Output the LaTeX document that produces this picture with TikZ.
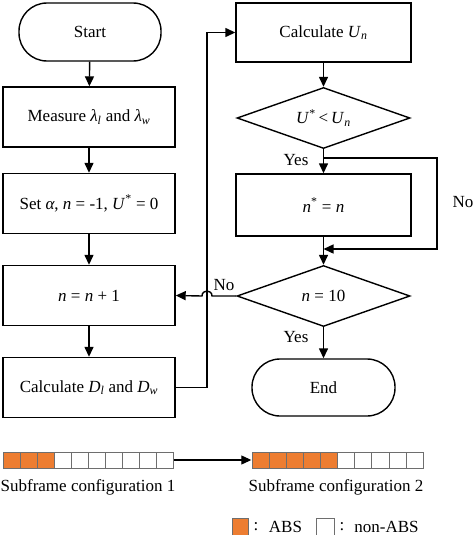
\documentclass[tikz,border=0pt]{standalone}
\usepackage{fontspec}
\setmainfont{Liberation Serif}
\usetikzlibrary{shapes.geometric,arrows.meta}
\definecolor{absorange}{RGB}{237,125,49}
\definecolor{cellline}{RGB}{110,110,110}
\newcommand{\mi}[1]{\textit{#1}}
\newcommand{\msub}[1]{\textsubscript{\textit{#1}}}
\newcommand{\msup}[1]{\textsuperscript{#1}}
\begin{document}
\begin{tikzpicture}[x=1pt,y=-1pt,
  font=\fontsize{17}{20}\selectfont,
  line width=1.4pt,
  box/.style={draw, rectangle, minimum width=172pt, minimum height=60pt, inner sep=0pt},
  term/.style={draw, rectangle, rounded corners=28pt, minimum width=142pt, minimum height=58pt, inner sep=0pt},
  dec/.style={draw, diamond, aspect=2.84, minimum width=173pt, minimum height=61pt, inner sep=0pt},
  arr/.style={-{Triangle[length=10pt,width=9pt]}},
  lbl/.style={inner sep=0pt},
  cell/.style={draw=cellline, line width=0.6pt},
  rowbox/.style={minimum width=170pt, minimum height=16pt, inner sep=0pt}]
\useasboundingbox (0,0) rectangle (474,535);

% left column
\node[term] (start) at (90,32) {Start};
\node[box] (meas) at (89,117) {Measure \mi{λ}\msub{l} and \mi{λ}\msub{w}};
\node[box] (set) at (89,203.5) {Set \mi{α}, \mi{n} = -1, \mi{U}\msup{*} = 0};
\node[box] (nn) at (89,295.5) {\mi{n} = \mi{n} + 1};
\node[box] (calcd) at (89,387.5) {Calculate \mi{D}\msub{l} and \mi{D}\msub{w}};

% right column
\node[box, minimum width=175pt, minimum height=59pt] (calcu) at (323.5,32.5) {Calculate \mi{U}\msub{n}};
\node[dec] (d1) at (323.5,118) {\mi{U}\msup{*}\,<\,\mi{U}\msub{n}};
\node[box, minimum width=175pt, minimum height=62pt] (nstar) at (323.5,205) {\mi{n}\msup{*} = \mi{n}};
\node[dec] (d2) at (323.5,296) {\mi{n} = 10};
\node[term, minimum width=143pt, minimum height=57pt] (end) at (323.5,387.5) {End};

% connectors
\draw[arr] (start) -- (meas);
\draw[arr] (meas) -- (set);
\draw[arr] (set) -- (nn);
\draw[arr] (nn) -- (calcd);
\coordinate (lp1) at (207,387.5);
\coordinate (lp2) at (207,32.5);
\draw[arr] (calcd.east) -- (lp1) -- (lp2) -- (calcu.west);
\draw[arr] (calcu) -- (d1);
\draw[arr] (d1) -- (nstar);
\draw[arr] (nstar) -- (d2);
\draw[arr] (d2) -- (end);
\coordinate (br) at (323.5,158);
\coordinate (r1) at (437,158);
\coordinate (r2) at (437,249);
\coordinate (r3) at (323.5,249);
\draw[arr] (br) -- (r1) -- (r2) -- (r3);
\coordinate (h1) at (212,296);
\coordinate (h2) at (202,296);
\draw[arr] (d2.west) -- (h1) .. controls (212,289.3) and (202,289.3) .. (h2) -- (nn.east);

% labels
\node[lbl] at (296,160) {Yes};
\node[lbl] at (296,337) {Yes};
\node[lbl] at (224,285) {No};
\node[lbl] at (463,202) {No};

% subframe rows
\node[rowbox] (row1) at (88,460) {};
\node[rowbox, minimum width=171pt] (row2) at (337.5,460) {};
\foreach \i in {0,...,9} {
  \ifnum\i<3
    \filldraw[cell, fill=absorange] (3+\i*17,452) rectangle ++(17,16);
  \else
    \draw[cell] (3+\i*17,452) rectangle ++(17,16);
  \fi
}
\foreach \i in {0,...,9} {
  \ifnum\i<5
    \filldraw[cell, fill=absorange] (252+\i*17.1,452) rectangle ++(17.1,16);
  \else
    \draw[cell] (252+\i*17.1,452) rectangle ++(17.1,16);
  \fi
}
\draw[arr, line width=1.1pt] (row1.east) -- (row2.west);
\node[lbl] (cfg1) at (88,487) {Subframe configuration 1};
\node[lbl] (cfg2) at (336,487) {Subframe configuration 2};

% legend
\filldraw[cell, fill=absorange] (232,518) rectangle (248,536);
\node[lbl] at (256,527) {:};
\node[lbl] at (285.5,527) {ABS};
\draw[cell] (316,518) rectangle (334,536);
\node[lbl] at (342,527) {:};
\node[lbl] at (386.5,527) {non-ABS};
\end{tikzpicture}
\end{document}
